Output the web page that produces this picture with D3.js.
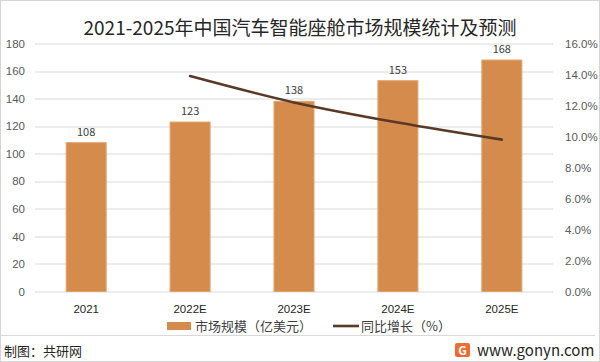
<!DOCTYPE html>
<html>
<head>
<meta charset="utf-8">
<script src="https://cdn.jsdelivr.net/npm/d3@7"></script>
<style>
  body { margin: 0; background: #fff; }
  svg { display: block; font-family: "Microsoft YaHei", "Noto Sans CJK SC", sans-serif; }
</style>
</head>
<body>
<div id="app"></div>
<script>
// data
const years = ['2021', '2022E', '2023E', '2024E', '2025E'];
const marketSize = [108, 123, 138, 153, 168];
const growth = [null, 0.139, 0.122, 0.109, 0.098];
const leftTicks = [0, 20, 40, 60, 80, 100, 120, 140, 160, 180];
const rightTicks = [0, 0.02, 0.04, 0.06, 0.08, 0.10, 0.12, 0.14, 0.16];

const W = 600, H = 362;
let margin = { top: 43.5, left: 35, right: 47, bottom: 70.5 };
let w = W - margin.left - margin.right, h = H - margin.top - margin.bottom;

const svg = d3.select('#app').append('svg')
  .attr('width', W)
  .attr('height', H);

// frame
svg.append('rect')
  .attr('x', 0.5).attr('y', 0.5)
  .attr('width', W - 1).attr('height', H - 1)
  .attr('fill', '#fff')
  .attr('stroke', '#d4d4d4');

svg.append('text')
  .attr('x', 300).attr('y', 35)
  .attr('text-anchor', 'middle')
  .attr('font-size', 19)
  .attr('fill', '#262626')
  .text('2021-2025年中国汽车智能座舱市场规模统计及预测');

const g = svg.append('g')
  .attr('transform', 'translate(' + margin.left + ',' + margin.top + ')');

let xScale = d3.scaleBand()
  .domain(years)
  .range([0, w])
  .paddingInner(0.615)
  .paddingOuter(0.3);

let yScale = d3.scaleLinear()
  .domain([0, 180])
  .range([h, 0]);

let y2Scale = d3.scaleLinear()
  .domain([0, 0.16])
  .range([h, 0]);

// gridlines
g.append('g')
  .selectAll('line')
  .data(leftTicks)
  .join('line')
  .attr('x1', 0).attr('x2', w)
  .attr('y1', d => Math.round(yScale(d)) + 0.5)
  .attr('y2', d => Math.round(yScale(d)) + 0.5)
  .attr('stroke', '#d9d9d9');

// left axis
let yAxis = d3.axisLeft(yScale).tickValues(leftTicks).tickSize(0).tickPadding(10);
g.append('g')
  .attr('class', 'y axis')
  .call(yAxis)
  .call(s => s.select('.domain').remove())
  .selectAll('text')
  .attr('font-size', 11.5)
  .attr('fill', '#595959');

// right axis
let y2Axis = d3.axisRight(y2Scale).tickValues(rightTicks).tickSize(0).tickPadding(12)
  .tickFormat(d3.format('.1%'));
g.append('g')
  .attr('class', 'y2 axis')
  .attr('transform', 'translate(' + w + ',0)')
  .call(y2Axis)
  .call(s => s.select('.domain').remove())
  .selectAll('text')
  .attr('font-size', 11.5)
  .attr('fill', '#595959');

// bottom axis
let xAxis = d3.axisBottom(xScale).tickSize(0).tickPadding(13);
g.append('g')
  .attr('class', 'x axis')
  .attr('transform', 'translate(0,' + h + ')')
  .call(xAxis)
  .call(s => s.select('.domain').remove())
  .selectAll('text')
  .attr('font-size', 11.5)
  .attr('fill', '#262626');

// bars
g.append('g')
  .selectAll('rect')
  .data(marketSize)
  .join('rect')
  .attr('x', (d, i) => xScale(years[i]))
  .attr('y', d => yScale(d))
  .attr('width', xScale.bandwidth())
  .attr('height', d => h - yScale(d))
  .attr('fill', '#d58b4c')
  .attr('stroke', '#e3a46c')
  .attr('stroke-width', 1);

g.append('g')
  .selectAll('text')
  .data(marketSize)
  .join('text')
  .attr('x', (d, i) => xScale(years[i]) + xScale.bandwidth() / 2)
  .attr('y', d => yScale(d) - 7)
  .attr('text-anchor', 'middle')
  .attr('font-size', 11)
  .attr('fill', '#404040')
  .text(d => d);

// growth line
let ln = d3.line()
  .defined(d => d != null)
  .curve(d3.curveMonotoneX)
  .x((d, i) => xScale(years[i]) + xScale.bandwidth() / 2)
  .y(d => y2Scale(d));

g.append('path')
  .attr('fill', 'none')
  .attr('stroke', '#5a3a27')
  .attr('stroke-width', 2.6)
  .attr('stroke-linecap', 'round')
  .attr('d', ln(growth));

// legend
const lg = svg.append('g').attr('transform', 'translate(0,326)');
lg.append('rect')
  .attr('x', 167).attr('y', -4)
  .attr('width', 24).attr('height', 8)
  .attr('fill', '#d58b4c');
lg.append('text')
  .attr('x', 195).attr('y', 5)
  .attr('font-size', 13)
  .attr('fill', '#404040')
  .text('市场规模（亿美元）');
lg.append('line')
  .attr('x1', 333).attr('x2', 359)
  .attr('y1', 0).attr('y2', 0)
  .attr('stroke', '#5a3a27')
  .attr('stroke-width', 2.6);
lg.append('text')
  .attr('x', 361).attr('y', 5)
  .attr('font-size', 13)
  .attr('fill', '#404040')
  .text('同比增长（%）');

// footer
svg.append('line')
  .attr('x1', 0).attr('x2', 595)
  .attr('y1', 335.5).attr('y2', 335.5)
  .attr('stroke', '#d9d9d9');

svg.append('text')
  .attr('x', 4).attr('y', 356)
  .attr('font-size', 13)
  .attr('fill', '#262626')
  .text('制图：共研网');

const logo = svg.append('g').attr('transform', 'translate(455,343)');
logo.append('rect')
  .attr('width', 15).attr('height', 14).attr('rx', 2)
  .attr('fill', '#f06a35');
logo.append('text')
  .attr('x', 7.5).attr('y', 11.5)
  .attr('text-anchor', 'middle')
  .attr('font-size', 12)
  .attr('font-weight', 'bold')
  .attr('fill', '#fff')
  .text('G');

svg.append('text')
  .attr('x', 477).attr('y', 356)
  .attr('font-size', 15)
  .attr('fill', '#262626')
  .text('www.gonyn.com');
</script>
</body>
</html>
